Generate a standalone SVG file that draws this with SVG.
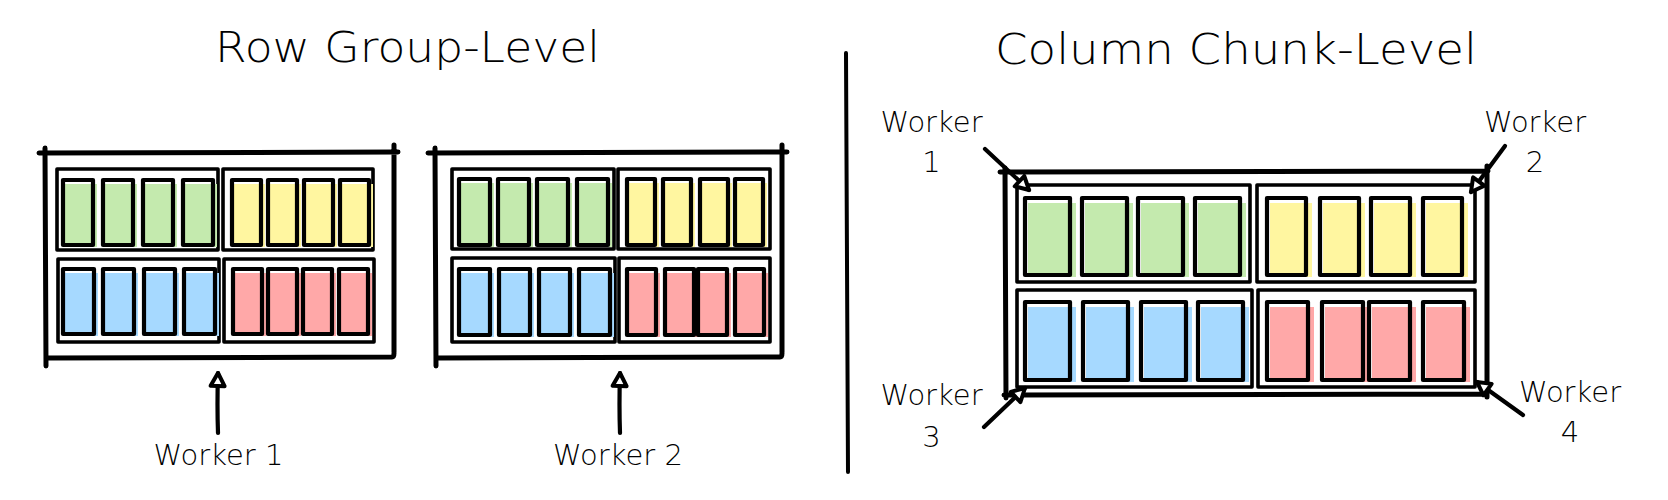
<svg xmlns="http://www.w3.org/2000/svg" width="1668" height="500" viewBox="0 0 1668 500">
<style>
.bg{fill:#ffffff}
.title{font-family:"DejaVu Sans ExtraLight","DejaVu Sans","Liberation Sans",sans-serif;font-weight:200;font-size:42px;fill:#000}
.lbl{font-family:"DejaVu Sans ExtraLight","DejaVu Sans","Liberation Sans",sans-serif;font-weight:200;font-size:29px;fill:#000}
.outer{fill:none;stroke:#000;stroke-width:5;stroke-linecap:round;stroke-linejoin:round}
.grp{fill:none;stroke:#000;stroke-width:3.6;stroke-linecap:round;stroke-linejoin:round}
.cell{fill:none;stroke:#000;stroke-width:4.2;stroke-linecap:round;stroke-linejoin:round}
.g{fill:#c4eaae}
.y{fill:#fff6a0}
.b{fill:#a6d9ff}
.r{fill:#ffa8a8}
.conn{fill:none;stroke:#000;stroke-width:4.2;stroke-linecap:round;marker-end:url(#ah)}
.div{fill:none;stroke:#000;stroke-width:4;stroke-linecap:round}
</style>
<defs>
<marker id="ah" viewBox="-20 -12 26 24" refX="0" refY="0" markerWidth="26" markerHeight="24" markerUnits="userSpaceOnUse" orient="auto" overflow="visible">
<path d="M0,0 L-13,-7 L-13,7 Z" fill="#fff" stroke="#000" stroke-width="4" stroke-linejoin="round"/>
</marker>
</defs>
<rect class="bg" x="0" y="0" width="1668" height="500"/>

<g id="titles">
<text class="title" x="215" y="62" textLength="385" lengthAdjust="spacingAndGlyphs">Row Group-Level</text>
<text class="title" x="995" y="64" textLength="482" lengthAdjust="spacingAndGlyphs">Column Chunk-Level</text>
</g>

<g id="divider">
<path class="div" d="M846,53 Q846.5,260 848,472"/>
</g>

<!-- Row group file 1 -->
<g id="file-1">
<path class="outer" d="M39,153 L398,152 M45,148 L46,366 M394,145 L394,352 M47,358 L392,357 Q394,357 394,353"/>
<rect class="grp" x="57" y="169" width="161" height="81"/>
<rect class="grp" x="223" y="169" width="150" height="81"/>
<rect class="grp" x="58" y="259" width="161" height="83"/>
<rect class="grp" x="224" y="259" width="150" height="83"/>
<g>
<rect class="g" x="65" y="184" width="32" height="63"/><rect class="cell" x="63" y="180" width="30" height="65"/>
<rect class="g" x="105" y="184" width="32" height="63"/><rect class="cell" x="103" y="180" width="30" height="65"/>
<rect class="g" x="145" y="184" width="32" height="63"/><rect class="cell" x="143" y="180" width="30" height="65"/>
<rect class="g" x="185" y="184" width="32" height="63"/><rect class="cell" x="183" y="180" width="30" height="65"/>
<rect class="y" x="234" y="184" width="31" height="63"/><rect class="cell" x="232" y="180" width="29" height="65"/>
<rect class="y" x="270" y="184" width="31" height="63"/><rect class="cell" x="268" y="180" width="29" height="65"/>
<rect class="y" x="306" y="184" width="31" height="63"/><rect class="cell" x="304" y="180" width="29" height="65"/>
<rect class="y" x="342" y="184" width="31" height="63"/><rect class="cell" x="340" y="180" width="29" height="65"/>
<rect class="b" x="65" y="273" width="33" height="63"/><rect class="cell" x="63" y="269" width="31" height="65"/>
<rect class="b" x="105" y="273" width="33" height="63"/><rect class="cell" x="103" y="269" width="31" height="65"/>
<rect class="b" x="146" y="273" width="33" height="63"/><rect class="cell" x="144" y="269" width="31" height="65"/>
<rect class="b" x="186" y="273" width="33" height="63"/><rect class="cell" x="184" y="269" width="31" height="65"/>
<rect class="r" x="235" y="273" width="31" height="63"/><rect class="cell" x="233" y="269" width="29" height="65"/>
<rect class="r" x="270" y="273" width="31" height="63"/><rect class="cell" x="268" y="269" width="29" height="65"/>
<rect class="r" x="305" y="273" width="31" height="63"/><rect class="cell" x="303" y="269" width="29" height="65"/>
<rect class="r" x="341" y="273" width="31" height="63"/><rect class="cell" x="339" y="269" width="29" height="65"/>
</g>
</g>

<!-- Row group file 2 -->
<g id="file-2">
<path class="outer" d="M428,153 L787,152 M435,148 L436,366 M782,145 L782,352 M437,358 L780,357 Q782,357 782,353"/>
<rect class="grp" x="452" y="169" width="162" height="80"/>
<rect class="grp" x="618" y="169" width="152" height="80"/>
<rect class="grp" x="452" y="258" width="163" height="84"/>
<rect class="grp" x="619" y="258" width="151" height="84"/>
<g>
<rect class="g" x="461" y="183" width="33" height="64"/><rect class="cell" x="459" y="179" width="31" height="66"/>
<rect class="g" x="500" y="183" width="33" height="64"/><rect class="cell" x="498" y="179" width="31" height="66"/>
<rect class="g" x="539" y="183" width="33" height="64"/><rect class="cell" x="537" y="179" width="31" height="66"/>
<rect class="g" x="579" y="183" width="33" height="64"/><rect class="cell" x="577" y="179" width="31" height="66"/>
<rect class="y" x="629" y="183" width="30" height="64"/><rect class="cell" x="627" y="179" width="28" height="66"/>
<rect class="y" x="665" y="183" width="30" height="64"/><rect class="cell" x="663" y="179" width="28" height="66"/>
<rect class="y" x="702" y="183" width="30" height="64"/><rect class="cell" x="700" y="179" width="28" height="66"/>
<rect class="y" x="737" y="183" width="30" height="64"/><rect class="cell" x="735" y="179" width="28" height="66"/>
<rect class="b" x="461" y="273" width="33" height="64"/><rect class="cell" x="459" y="269" width="31" height="66"/>
<rect class="b" x="501" y="273" width="33" height="64"/><rect class="cell" x="499" y="269" width="31" height="66"/>
<rect class="b" x="541" y="273" width="33" height="64"/><rect class="cell" x="539" y="269" width="31" height="66"/>
<rect class="b" x="581" y="273" width="33" height="64"/><rect class="cell" x="579" y="269" width="31" height="66"/>
<rect class="r" x="629" y="273" width="31" height="64"/><rect class="cell" x="627" y="269" width="29" height="66"/>
<rect class="r" x="667" y="273" width="31" height="64"/><rect class="cell" x="665" y="269" width="29" height="66"/>
<rect class="r" x="700" y="273" width="31" height="64"/><rect class="cell" x="698" y="269" width="29" height="66"/>
<rect class="r" x="737" y="273" width="31" height="64"/><rect class="cell" x="735" y="269" width="29" height="66"/>
</g>
</g>

<!-- Column chunk file -->
<g id="file-3">
<path class="outer" d="M1000,172 L1488,171 M1005,168 L1006,398 M1487,166 L1487,397 M1004,395 L1486,394"/>
<rect class="grp" x="1017" y="185" width="233" height="97"/>
<rect class="grp" x="1257" y="185" width="218" height="97"/>
<rect class="grp" x="1017" y="290" width="235" height="97"/>
<rect class="grp" x="1258" y="290" width="217" height="97"/>
<g>
<rect class="g" x="1028" y="203" width="48" height="74"/><rect class="cell" x="1025" y="198" width="45" height="77"/>
<rect class="g" x="1085" y="203" width="48" height="74"/><rect class="cell" x="1082" y="198" width="45" height="77"/>
<rect class="g" x="1141" y="203" width="48" height="74"/><rect class="cell" x="1138" y="198" width="45" height="77"/>
<rect class="g" x="1198" y="203" width="48" height="74"/><rect class="cell" x="1195" y="198" width="45" height="77"/>
<rect class="y" x="1270" y="203" width="42" height="74"/><rect class="cell" x="1267" y="198" width="39" height="77"/>
<rect class="y" x="1323" y="203" width="42" height="74"/><rect class="cell" x="1320" y="198" width="39" height="77"/>
<rect class="y" x="1374" y="203" width="42" height="74"/><rect class="cell" x="1371" y="198" width="39" height="77"/>
<rect class="y" x="1426" y="203" width="42" height="74"/><rect class="cell" x="1423" y="198" width="39" height="77"/>
<rect class="b" x="1028" y="307" width="48" height="75"/><rect class="cell" x="1025" y="302" width="45" height="78"/>
<rect class="b" x="1086" y="307" width="48" height="75"/><rect class="cell" x="1083" y="302" width="45" height="78"/>
<rect class="b" x="1144" y="307" width="48" height="75"/><rect class="cell" x="1141" y="302" width="45" height="78"/>
<rect class="b" x="1201" y="307" width="48" height="75"/><rect class="cell" x="1198" y="302" width="45" height="78"/>
<rect class="r" x="1270" y="307" width="44" height="75"/><rect class="cell" x="1267" y="302" width="41" height="78"/>
<rect class="r" x="1325" y="307" width="44" height="75"/><rect class="cell" x="1322" y="302" width="41" height="78"/>
<rect class="r" x="1372" y="307" width="44" height="75"/><rect class="cell" x="1369" y="302" width="41" height="78"/>
<rect class="r" x="1426" y="307" width="44" height="75"/><rect class="cell" x="1423" y="302" width="41" height="78"/>
</g>
</g>

<!-- Worker labels -->
<g id="worker-1-row">
<text class="lbl" x="218.5" y="465" text-anchor="middle">Worker 1</text>
</g>
<g id="worker-2-row">
<text class="lbl" x="618" y="465" text-anchor="middle">Worker 2</text>
</g>
<g id="worker-1-col">
<text class="lbl" text-anchor="middle"><tspan x="931.5" y="132">Worker</tspan><tspan x="931.5" y="172">1</tspan></text>
</g>
<g id="worker-2-col">
<text class="lbl" text-anchor="middle"><tspan x="1535" y="132">Worker</tspan><tspan x="1535" y="172">2</tspan></text>
</g>
<g id="worker-3-col">
<text class="lbl" text-anchor="middle"><tspan x="931.5" y="405">Worker</tspan><tspan x="931.5" y="447">3</tspan></text>
</g>
<g id="worker-4-col">
<text class="lbl" text-anchor="middle"><tspan x="1570" y="402">Worker</tspan><tspan x="1570" y="442">4</tspan></text>
</g>

<!-- Connectors -->
<g id="connectors">
<path class="conn" d="M218,433 Q217,405 218,373"/>
<path class="conn" d="M620,433 Q619,405 620,373"/>
<path class="conn" d="M985,149 L1029,190"/>
<path class="conn" d="M1505,146 L1471,192"/>
<path class="conn" d="M984,427 L1025,388"/>
<path class="conn" d="M1523,415 L1477,382"/>
</g>
</svg>
